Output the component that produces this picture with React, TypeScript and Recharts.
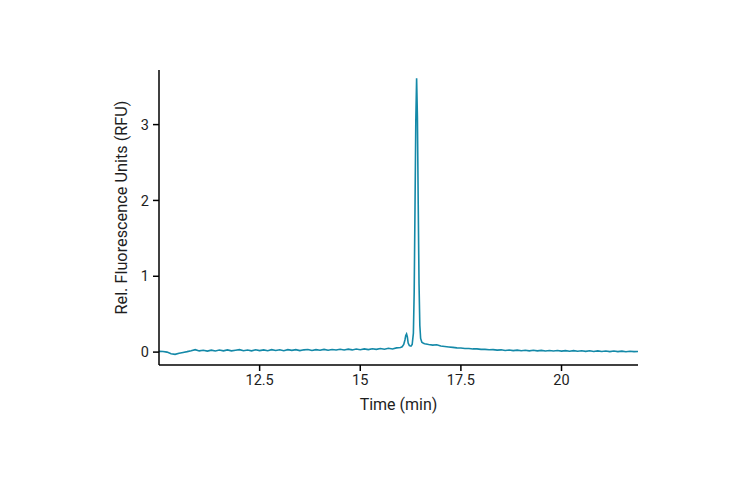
import React from "react";
import { LineChart, Line, XAxis, YAxis } from "recharts";

// retention time (min) and signal (RFU)
const TIMES = [
  10.0, 10.1, 10.2, 10.3, 10.4, 10.5, 10.6, 10.7, 10.8, 10.9,
  11.0, 11.1, 11.2, 11.3, 11.4, 11.5, 11.6, 11.7, 11.8, 11.9,
  12.0, 12.1, 12.2, 12.3, 12.4, 12.5, 12.6, 12.7, 12.8, 12.9,
  13.0, 13.1, 13.2, 13.3, 13.4, 13.5, 13.6, 13.7, 13.8, 13.9,
  14.0, 14.1, 14.2, 14.3, 14.4, 14.5, 14.6, 14.7, 14.8, 14.9,
  15.0, 15.1, 15.2, 15.3, 15.4, 15.5, 15.6, 15.7, 15.8, 15.9,
  16.0, 16.04, 16.08, 16.11, 16.13, 16.15, 16.17, 16.19, 16.22, 16.26,
  16.29, 16.32, 16.34, 16.36, 16.38, 16.4, 16.42, 16.44, 16.46, 16.48,
  16.5, 16.53, 16.57,
  16.6, 16.7, 16.8, 16.9, 17.0, 17.1, 17.2, 17.3, 17.4, 17.5,
  17.6, 17.7, 17.8, 17.9, 18.0, 18.1, 18.2, 18.3, 18.4, 18.5,
  18.6, 18.7, 18.8, 18.9, 19.0, 19.1, 19.2, 19.3, 19.4, 19.5,
  19.6, 19.7, 19.8, 19.9, 20.0, 20.1, 20.2, 20.3, 20.4, 20.5,
  20.6, 20.7, 20.8, 20.9, 21.0, 21.1, 21.2, 21.3, 21.4, 21.5,
  21.6, 21.7, 21.8, 21.9,
];

const RFU = [
  0.010, 0.008, 0.000, -0.022, -0.030, -0.015, -0.004, 0.006, 0.018, 0.032,
  0.016, 0.024, 0.013, 0.026, 0.015, 0.027, 0.017, 0.029, 0.016, 0.025,
  0.032, 0.018, 0.028, 0.017, 0.030, 0.020, 0.029, 0.018, 0.032, 0.022,
  0.031, 0.019, 0.033, 0.023, 0.032, 0.020, 0.030, 0.035, 0.022, 0.032,
  0.024, 0.036, 0.025, 0.034, 0.027, 0.038, 0.028, 0.039, 0.029, 0.040,
  0.031, 0.042, 0.033, 0.044, 0.036, 0.048, 0.038, 0.050, 0.042, 0.056,
  0.060, 0.070, 0.100, 0.160, 0.220, 0.240, 0.200, 0.120, 0.085, 0.080,
  0.100, 0.250, 0.800, 1.900, 3.050, 3.610, 3.100, 1.950, 0.900, 0.350,
  0.180, 0.130, 0.115,
  0.110, 0.100, 0.092, 0.097, 0.080, 0.074, 0.068, 0.062, 0.056, 0.054,
  0.048, 0.047, 0.042, 0.043, 0.036, 0.036, 0.031, 0.033, 0.026, 0.030,
  0.022, 0.027, 0.020, 0.026, 0.018, 0.025, 0.017, 0.024, 0.016, 0.023,
  0.015, 0.022, 0.014, 0.021, 0.013, 0.020, 0.012, 0.019, 0.011, 0.018,
  0.010, 0.017, 0.009, 0.016, 0.008, 0.015, 0.007, 0.014, 0.006, 0.013,
  0.005, 0.012, 0.006, 0.008,
];

const X_TICKS = [12.5, 15, 17.5, 20];
const Y_TICKS = [0, 1, 2, 3];

const FONT = "Roboto, 'DejaVu Sans', sans-serif";
const TRACE = "#1489a8";
const INK = "#1e1e1e";

const chartData = TIMES.map((t, i) => ({ time: t, rfu: RFU[i] }));

function YAxisLabel({ viewBox }: { viewBox?: { x: number; y: number; width: number; height: number } }) {
  if (!viewBox) return null;
  const x = viewBox.x + 22;
  const y = viewBox.y + viewBox.height / 2 - 10;
  return (
    <text
      x={x}
      y={y}
      transform={`rotate(-90, ${x}, ${y})`}
      textAnchor="middle"
      dominantBaseline="central"
      fontFamily={FONT}
      fontSize={16.3}
      fill={INK}
    >
      Rel. Fluorescence Units (RFU)
    </text>
  );
}

export default function App() {
  return (
    <div style={{ position: "absolute", top: 0, left: 0, width: 752, height: 480, background: "#fff" }}>
      <LineChart
        width={752}
        height={480}
        data={chartData}
        margin={{ top: 70, right: 114, bottom: 65, left: 99 }}
      >
        <XAxis
          dataKey="time"
          type="number"
          domain={[10, 21.9]}
          ticks={X_TICKS}
          allowDataOverflow
          height={50}
          tickSize={6}
          tickMargin={4}
          stroke="#000"
          strokeWidth={1.5}
          tick={{ fontSize: 14.5, fill: INK, fontFamily: FONT }}
          label={{
            value: "Time (min)",
            position: "insideBottom",
            offset: 5,
            fontSize: 16,
            fill: INK,
            fontFamily: FONT,
          }}
        />
        <YAxis
          type="number"
          domain={[-0.17, 3.72]}
          ticks={Y_TICKS}
          allowDataOverflow
          width={60}
          tickSize={6}
          tickMargin={4}
          stroke="#000"
          strokeWidth={1.5}
          tick={{ fontSize: 14.5, fill: INK, fontFamily: FONT }}
          label={<YAxisLabel />}
        />
        <Line
          type="linear"
          dataKey="rfu"
          stroke={TRACE}
          strokeWidth={1.6}
          dot={false}
          isAnimationActive={false}
        />
      </LineChart>
    </div>
  );
}
